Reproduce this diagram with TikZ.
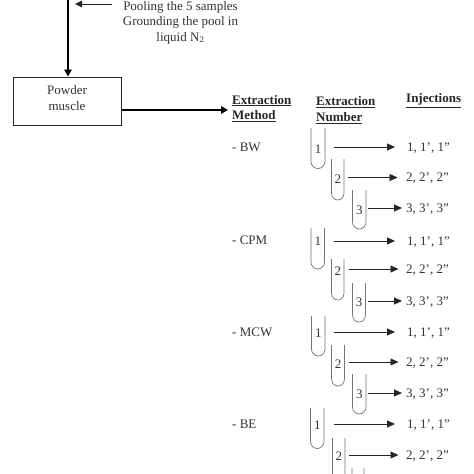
\documentclass[tikz,border=0pt]{standalone}
\usepackage{fontspec}
\setmainfont{Liberation Serif}
\usetikzlibrary{arrows.meta}
\tikzset{
 px/.style={x=1pt,y=-1pt},
 lab/.style={inner sep=0pt,font=\fontsize{13}{15.5}\selectfont,text=black!80},
 injlab/.style={lab,anchor=west,text height=8.9pt,text depth=0pt},
 head/.style={inner sep=0pt,font=\fontsize{13}{15.7}\bfseries\selectfont,align=left,anchor=west,text=black!85},
 tube/.style={draw=black!55,line width=.7pt},
 thin arrow/.style={draw=black!85,line width=.9pt,-{Triangle[length=8pt,width=7pt]}},
 thick arrow/.style={draw=black,line width=2pt,-{Triangle[length=7pt,width=7.5pt]}},
}
\newcommand{\ul}[1]{\underline{#1}}
% name, xl, xr, top, bottom, label, label y
\newcommand{\tubeU}[7]{%
 \draw[tube] (#2,#4) -- (#2,#5-7) arc[start angle=180,end angle=0,x radius={(#3-#2)/2},y radius=7] -- (#3,#4);
 \node[lab] (#1) at ({(#2+#3)/2},#7) {#6};
}
% name, text, y, start x, text x
\newcommand{\injrow}[5]{%
 \node[injlab] (i#1) at (#5,#3) {#2};
 \coordinate (s#1) at (#4,#3);
}
\begin{document}
\begin{tikzpicture}[px]
\useasboundingbox (0,0) rectangle (474,474);
\fill[white] (0,0) rectangle (474,474);
\clip (0,0) rectangle (474,474);
\coordinate (t0) at (68,-2);
\node[draw=black!85,line width=.9pt,minimum width=108.5pt,minimum height=48.5pt,inner sep=0pt,anchor=north west] (pm) at (12.5,76.5) {};
\node[lab,align=center] (pmt) at (67,98) {Powder\\muscle};
\draw[thick arrow] (t0) -- (pm.north -| t0);
\coordinate (a0) at (112,4);
\coordinate (a1) at (75,4);
\draw[draw=black!85,line width=.9pt,-{Triangle[length=7pt,width=6.5pt]}] (a0) -- (a1);
\node[lab,align=center] (pool) at (180.5,22.5) {Pooling the 5 samples\\Grounding the pool in\\liquid N$_2$};
\node[head] (em) at (232,108.5) {\ul{Extraction}\\\ul{Method}};
\node[head] (en) at (316,110) {\ul{Extraction}\\\ul{Number}};
\node[head] (inj) at (406,100.5) {\ul{Injections}};
\coordinate (b0) at (pm.east |- 0,110);
\draw[thick arrow,shorten >=4pt] (b0) -- (em.west |- b0);
% BW
\node[lab,anchor=west] (mBW) at (232,147) {- BW};
\tubeU{aa}{311}{325}{128}{168.5}{1}{149}
\tubeU{ab}{331.5}{344}{159}{200}{2}{179}
\tubeU{ac}{352.5}{366}{190}{229}{3}{210}
\injrow{aa}{1, 1', 1''}{147}{334}{407}
\injrow{ab}{2, 2', 2''}{177.5}{348}{406}
\injrow{ac}{3, 3', 3''}{208}{368}{406}
\draw[thin arrow,shorten >=12pt] (saa) -- (iaa.west);
\draw[thin arrow,shorten >=8.5pt] (sab) -- (iab.west);
\draw[thin arrow,shorten >=4pt] (sac) -- (iac.west);
% CPM
\node[lab,anchor=west] (mCPM) at (232,240) {- CPM};
\tubeU{ba}{311}{324.5}{228}{269}{1}{241}
\tubeU{bb}{331.5}{344}{259}{300}{2}{271}
\tubeU{bc}{352.5}{365.5}{283}{322}{3}{302}
\injrow{ba}{1, 1', 1''}{241}{334}{407}
\injrow{bb}{2, 2', 2''}{269}{349}{406}
\injrow{bc}{3, 3', 3''}{301}{368}{406}
\draw[thin arrow,shorten >=12pt] (sba) -- (iba.west);
\draw[thin arrow,shorten >=7.5pt] (sbb) -- (ibb.west);
\draw[thin arrow,shorten >=4pt] (sbc) -- (ibc.west);
% MCW
\node[lab,anchor=west] (mMCW) at (232,332) {- MCW};
\tubeU{ca}{311.5}{325}{316}{356}{1}{333}
\tubeU{cb}{331.5}{344.5}{345}{386}{2}{364}
\tubeU{cc}{352.5}{366}{374}{414}{3}{394}
\injrow{ca}{1, 1', 1''}{332}{334}{407}
\injrow{cb}{2, 2', 2''}{362}{349}{406}
\injrow{cc}{3, 3', 3''}{393}{368}{406}
\draw[thin arrow,shorten >=12pt] (sca) -- (ica.west);
\draw[thin arrow,shorten >=7.5pt] (scb) -- (icb.west);
\draw[thin arrow,shorten >=4pt] (scc) -- (icc.west);
% BE
\node[lab,anchor=west] (mBE) at (232,424) {- BE};
\tubeU{da}{310.5}{324}{408}{448.5}{1}{425}
\tubeU{db}{332.5}{345}{438}{500}{2}{456}
\tubeU{dc}{352}{364}{468}{510}{}{490}
\injrow{da}{1, 1', 1''}{424}{334}{407}
\injrow{db}{2, 2', 2''}{455}{349}{406}
\draw[thin arrow,shorten >=12pt] (sda) -- (ida.west);
\draw[thin arrow,shorten >=7.5pt] (sdb) -- (idb.west);
\end{tikzpicture}
\end{document}
